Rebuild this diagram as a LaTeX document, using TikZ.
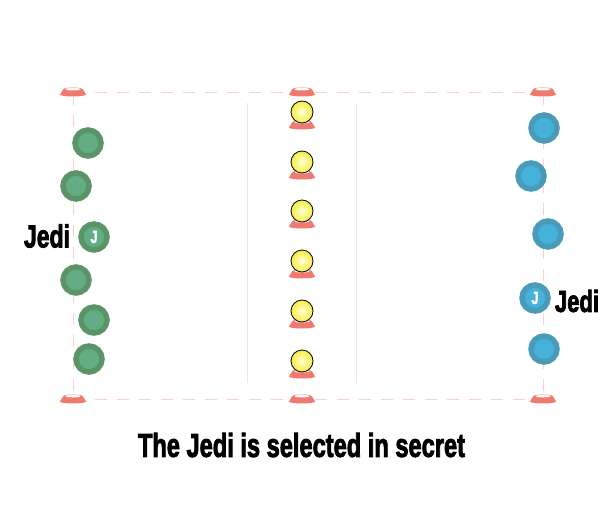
\documentclass[tikz,border=0pt]{standalone}
\usepackage{fontspec}
\usepackage{graphicx}
\newfontfamily\heavyfont{Liberation Sans}[UprightFont={* Bold},FakeBold=3]
\definecolor{conered}{HTML}{F07A70}
\definecolor{dashpink}{HTML}{FAD1CD}
\definecolor{greyline}{HTML}{E9E7E4}
\definecolor{gout}{HTML}{5B9567}
\definecolor{gin}{HTML}{62AD84}
\definecolor{bout}{HTML}{4A9BB9}
\definecolor{bin}{HTML}{46B1D9}
\definecolor{ballyellow}{HTML}{F6EE3E}
\definecolor{ballcentre}{HTML}{FFFFD8}
\tikzset{
  fieldline/.style={draw=dashpink, line width=1pt, dash pattern=on 12pt off 10pt},
  gridline/.style={draw=greyline, line width=1pt},
  greenplayer/.style={circle, minimum size=26pt, inner sep=0pt, line width=5.5pt, draw=gout, fill=gin, text=white},
  blueplayer/.style={circle, minimum size=26pt, inner sep=0pt, line width=5.5pt, draw=bout, fill=bin, text=white},
  yball/.style={circle, minimum size=22pt, inner sep=0pt, draw=black, line width=0.8pt, shading=radial, inner color=ballcentre, outer color=ballyellow},
  jlabel/.style={inner sep=0pt, text=black},
  cone/.pic={
    \fill[conered] (-13,2.5) -- (-10,-2.5) -- (10,-2.5) -- (13,2.5) -- cycle;
    \fill[conered] (0,2.5) ellipse [x radius=13, y radius=2];
    \fill[conered] (0,-2.5) ellipse [x radius=10, y radius=2];
    \fill[white] (0,-2.8) ellipse [x radius=7.5, y radius=1.3];
  }
}
\newcommand{\jmark}{\resizebox{7pt}{12pt}{\heavyfont J}}
\begin{document}
\begin{tikzpicture}[x=1pt,y=-1pt]
\useasboundingbox (0,0) rectangle (612,513);
% field corners
\coordinate (tl) at (73,93);
\coordinate (tr) at (543,93);
\coordinate (bl) at (73,399);
\coordinate (br) at (543,399);
\draw[fieldline] (tl) -- (tr);
\draw[fieldline] (bl) -- (br);
\draw[fieldline] (tl) -- (bl);
\draw[fieldline] (tr) -- (br);
% grey lines
\coordinate (g1t) at (247,103);
\coordinate (g1b) at (247,383);
\coordinate (g2t) at (356,103);
\coordinate (g2b) at (356,383);
\draw[gridline] (g1t) -- (g1b);
\draw[gridline] (g2t) -- (g2b);
% corner and middle cones
\pic at (73,92) {cone};
\pic at (302,92) {cone};
\pic at (543,92) {cone};
\pic at (73,399) {cone};
\pic at (302,399) {cone};
\pic at (543,399) {cone};
% middle column: cones with balls
\foreach \i/\y in {1/112,2/162,3/211,4/261,5/311,6/361}{
  \pic at (302,\y+13) {cone};
  \node[yball] (ball\i) at (302,\y) {};
}
% green players
\node[greenplayer] (g1) at (88,143) {};
\node[greenplayer] (g2) at (76,186) {};
\node[greenplayer] (g3) at (94,237) {\jmark};
\node[greenplayer] (g4) at (76,280) {};
\node[greenplayer] (g5) at (94,320) {};
\node[greenplayer] (g6) at (89,359) {};
% blue players
\node[blueplayer] (b1) at (544,128) {};
\node[blueplayer] (b2) at (531,176) {};
\node[blueplayer] (b3) at (548,234) {};
\node[blueplayer] (b4) at (535,298) {\jmark};
\node[blueplayer] (b5) at (544,349) {};
% labels
\node[jlabel] (jediL) at (47,236) {\resizebox{46pt}{23pt}{\heavyfont Jedi}};
\node[jlabel] (jediR) at (577,301) {\resizebox{44pt}{22pt}{\heavyfont Jedi}};
\node[jlabel] (title) at (301.5,445) {\resizebox{327pt}{24pt}{\heavyfont The Jedi is selected in secret}};
\end{tikzpicture}
\end{document}
